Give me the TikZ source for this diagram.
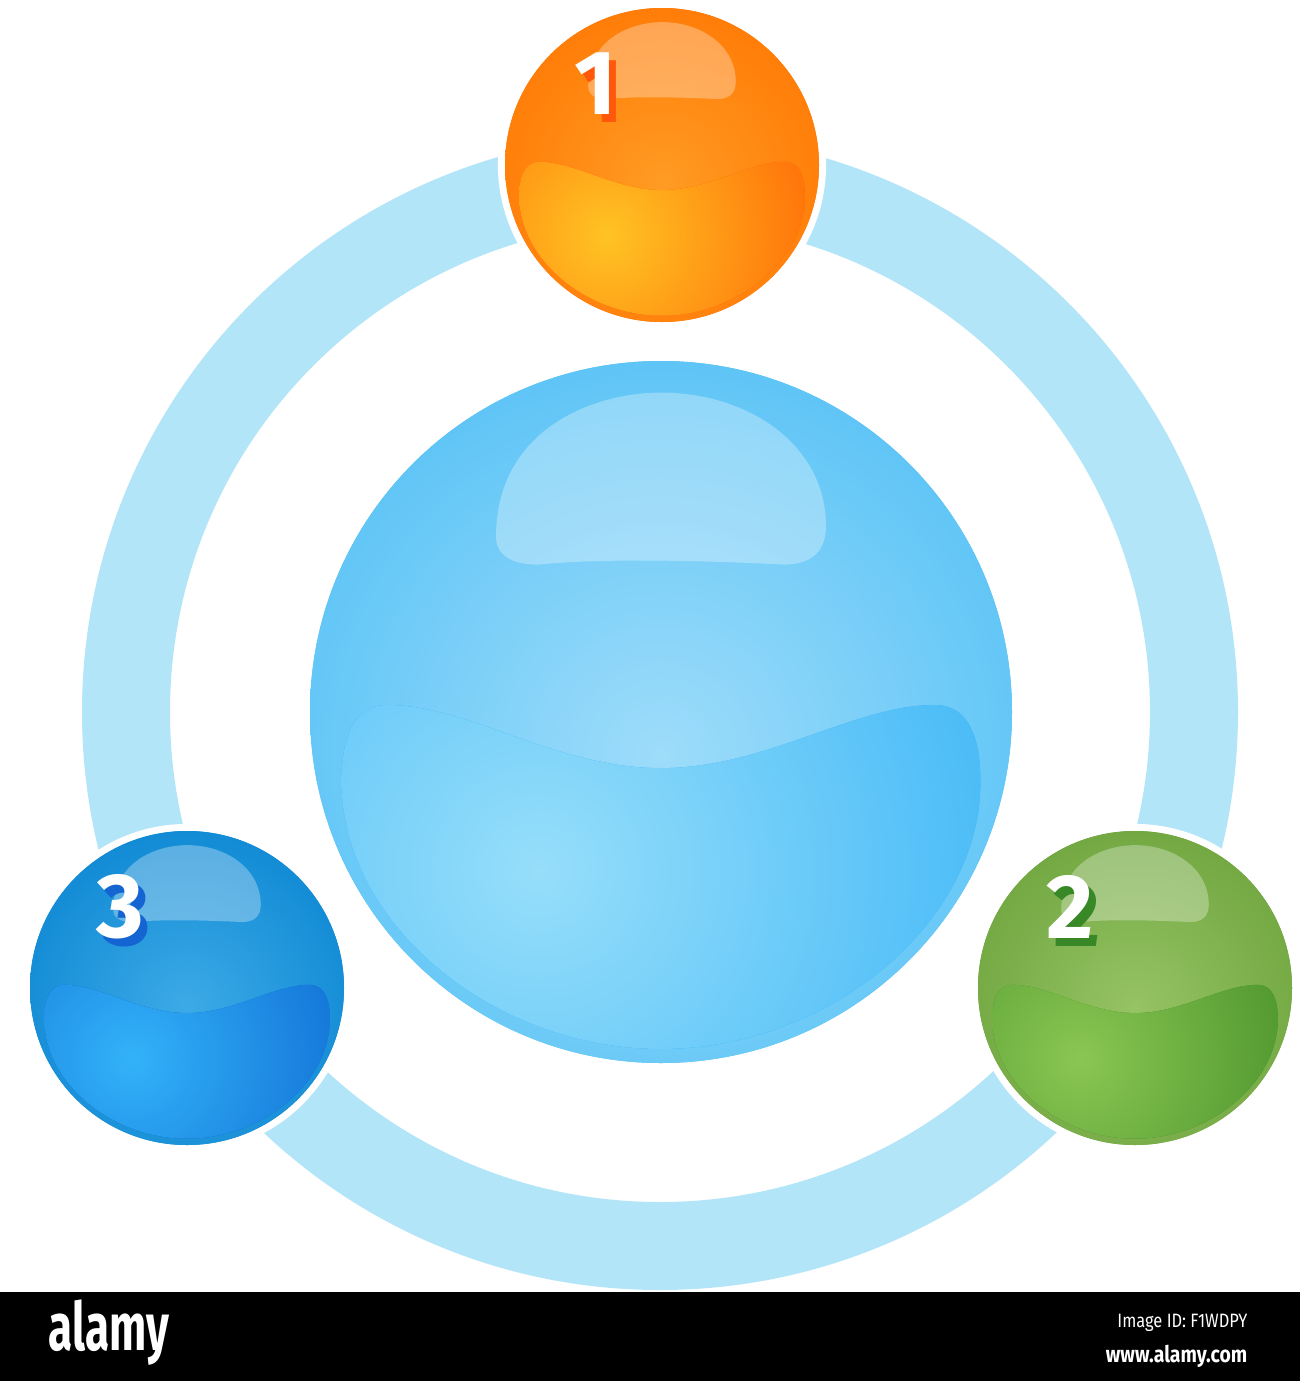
\documentclass[tikz,border=0pt]{standalone}
\usepackage{fontspec}
\setmainfont{Fira Sans}
\usepackage{xcolor}
\usetikzlibrary{positioning}

\definecolor{ringblue}{RGB}{179,229,248}
\definecolor{bigout}{RGB}{76,190,245}
\definecolor{bigin}{RGB}{158,220,250}
\definecolor{bigliqout}{RGB}{44,174,246}
\definecolor{bigliqin}{RGB}{150,222,250}
\definecolor{orout}{RGB}{255,116,0}
\definecolor{orin}{RGB}{255,155,35}
\definecolor{orliqout}{RGB}{255,84,0}
\definecolor{orliqin}{RGB}{255,195,35}
\definecolor{orshade}{RGB}{255,88,10}
\definecolor{grout}{RGB}{104,160,56}
\definecolor{grin}{RGB}{150,195,100}
\definecolor{grliqout}{RGB}{60,136,36}
\definecolor{grliqin}{RGB}{138,198,82}
\definecolor{grshade}{RGB}{56,136,40}
\definecolor{blout}{RGB}{6,130,208}
\definecolor{blin}{RGB}{60,170,230}
\definecolor{blliqout}{RGB}{10,96,205}
\definecolor{blliqin}{RGB}{50,178,248}
\definecolor{blshade}{RGB}{20,100,210}

% number with its drop shadow
\newcommand{\shadenum}[2]{\rlap{\hspace{0.7mm}\raisebox{-0.8mm}{\textcolor{#1}{#2}}}\textcolor{white}{#2}}

% glossy ball: x, y, radius, outer, inner, liquid outer, liquid inner
\newcommand{\glossball}[7]{%
\begin{scope}[shift={(#1,#2)}, scale=#3, yscale=-1]
  \fill[white] (0,0) circle (1.045);
  \fill[#4] (0,0) circle (1);
  \begin{scope}
    \clip (0,0) circle (1);
    \shade[inner color=#5, outer color=#4] (0,-0.12) circle (1.45);
  \end{scope}
  \begin{scope}
    \clip (-0.78,0.02) .. controls (-0.55,0.02) and (-0.3,-0.16) .. (0,-0.16)
      .. controls (0.3,-0.16) and (0.55,0.02) .. (0.78,0.02)
      .. controls (0.88,0.02) and (0.91,-0.08) .. (0.91,-0.2)
      .. controls (0.91,-0.6) and (0.48,-0.96) .. (0,-0.96)
      .. controls (-0.48,-0.96) and (-0.91,-0.6) .. (-0.91,-0.2)
      .. controls (-0.91,-0.08) and (-0.88,0.02) .. (-0.78,0.02) -- cycle;
    \fill[#6] (-1,-1) rectangle (1,0.1);
    \shade[inner color=#7, outer color=#6] (-0.35,-0.45) circle (1.85);
  \end{scope}
  \fill[white, opacity=0.3] (-0.47,0.5) .. controls (-0.47,0.8) and (-0.2,0.91) .. (0,0.91)
    .. controls (0.25,0.91) and (0.47,0.76) .. (0.47,0.53)
    .. controls (0.47,0.45) and (0.42,0.42) .. (0.35,0.42)
    .. controls (0.15,0.43) and (-0.15,0.44) .. (-0.35,0.42)
    .. controls (-0.43,0.42) and (-0.47,0.45) .. (-0.47,0.5) -- cycle;
\end{scope}}

\begin{document}
\begin{tikzpicture}[x=0.1mm, y=-0.1mm,
  num/.style = {font=\bfseries\fontsize{26}{26}\selectfont, inner sep=0pt},
  barbig/.style = {font=\bfseries\fontsize{19}{19}\selectfont, text=white, inner sep=0pt},
  barsmall/.style = {font=\fontsize{5.5}{6}\selectfont, text=white, inner sep=0pt}]
\useasboundingbox (0,0) rectangle (1300,1381);
\fill[white] (0,0) rectangle (1300,1381);

% ring behind the balls
\draw[ringblue, line width=8.8mm] (660,712) circle (534);

\glossball{661}{712}{351}{bigout}{bigin}{bigliqout}{bigliqin}
\glossball{662}{165}{157}{orout}{orin}{orliqout}{orliqin}
\glossball{1135}{988}{157}{grout}{grin}{grliqout}{grliqin}
\glossball{187}{988}{157}{blout}{blin}{blliqout}{blliqin}

% numbers
\node[num] (one) at (596,88) {\shadenum{orshade}{1}};
\node[num] (two) at (1070,911) {\shadenum{grshade}{2}};
\node[num] (three) at (120,911) {\shadenum{blshade}{3}};

% bottom bar
\fill[black] (0,1292) rectangle (1300,1381);
\node[barbig, anchor=west] (logo) at (48,1333) {\scalebox{0.66}[1]{alamy}};
\node[barsmall, anchor=east] (imgid) at (1248,1323) {\scalebox{0.85}[1]{Image ID: F1WDPY}};
\node[barsmall, font=\bfseries\fontsize{6.5}{7}\selectfont, anchor=east] (site) [below=1.2mm of imgid.south east, anchor=north east] {\scalebox{0.85}[1]{www.alamy.com}};
\end{tikzpicture}
\end{document}
